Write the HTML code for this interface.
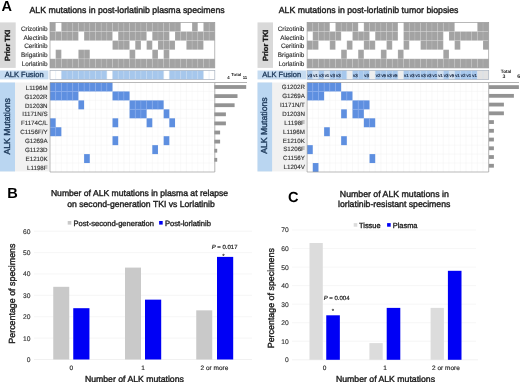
<!DOCTYPE html>
<html><head><meta charset="utf-8"><title>ALK mutations figure</title>
<style>
html,body{margin:0;padding:0;background:#fff;}
body{width:520px;height:382px;overflow:hidden;}
svg{display:block;font-family:"Liberation Sans", Arial, sans-serif;text-rendering:geometricPrecision;}
</style></head>
<body>
<svg width="520" height="382" viewBox="0 0 520 382">
<rect x="0" y="0" width="520" height="382" fill="#fff"/>
<text x="29.50" y="13.03" font-size="8.74" text-anchor="start" font-weight="normal" fill="#222"  stroke="#222" stroke-width="0.393">ALK mutations in post-lorlatinib plasma specimens</text>
<rect x="0.00" y="22.40" width="15.70" height="45.50" fill="#d9d9d9"/>
<text x="0" y="2.67" transform="translate(7.65,45.35) rotate(-90)" font-size="7.45" text-anchor="middle" font-weight="bold" fill="#151515"  stroke="#151515" stroke-width="0.300">Prior TKI</text>
<text x="47.60" y="30.59" font-size="6.4" text-anchor="end" font-weight="normal" fill="#333"  stroke="#333" stroke-width="0.141">Crizotinib</text>
<rect x="50.00" y="22.40" width="5.68" height="9.10" fill="#a3a3a3"/>
<rect x="61.37" y="22.40" width="5.68" height="9.10" fill="#a3a3a3"/>
<rect x="67.05" y="22.40" width="5.68" height="9.10" fill="#a3a3a3"/>
<rect x="72.73" y="22.40" width="5.68" height="9.10" fill="#a3a3a3"/>
<rect x="78.41" y="22.40" width="5.68" height="9.10" fill="#a3a3a3"/>
<rect x="84.10" y="22.40" width="5.68" height="9.10" fill="#a3a3a3"/>
<rect x="89.78" y="22.40" width="5.68" height="9.10" fill="#a3a3a3"/>
<rect x="95.46" y="22.40" width="5.68" height="9.10" fill="#a3a3a3"/>
<rect x="101.14" y="22.40" width="5.68" height="9.10" fill="#a3a3a3"/>
<rect x="106.83" y="22.40" width="5.68" height="9.10" fill="#a3a3a3"/>
<rect x="112.51" y="22.40" width="5.68" height="9.10" fill="#a3a3a3"/>
<rect x="118.19" y="22.40" width="5.68" height="9.10" fill="#a3a3a3"/>
<rect x="123.88" y="22.40" width="5.68" height="9.10" fill="#a3a3a3"/>
<rect x="129.56" y="22.40" width="5.68" height="9.10" fill="#a3a3a3"/>
<rect x="135.24" y="22.40" width="5.68" height="9.10" fill="#a3a3a3"/>
<rect x="140.92" y="22.40" width="5.68" height="9.10" fill="#a3a3a3"/>
<rect x="146.61" y="22.40" width="5.68" height="9.10" fill="#a3a3a3"/>
<rect x="152.29" y="22.40" width="5.68" height="9.10" fill="#a3a3a3"/>
<rect x="157.97" y="22.40" width="5.68" height="9.10" fill="#a3a3a3"/>
<rect x="163.66" y="22.40" width="5.68" height="9.10" fill="#a3a3a3"/>
<rect x="169.34" y="22.40" width="5.68" height="9.10" fill="#a3a3a3"/>
<rect x="175.02" y="22.40" width="5.68" height="9.10" fill="#a3a3a3"/>
<rect x="192.07" y="22.40" width="5.68" height="9.10" fill="#a3a3a3"/>
<rect x="203.43" y="22.40" width="5.68" height="9.10" fill="#a3a3a3"/>
<rect x="209.12" y="22.40" width="5.68" height="9.10" fill="#a3a3a3"/>
<text x="47.60" y="39.50" font-size="6.4" text-anchor="end" font-weight="normal" fill="#333"  stroke="#333" stroke-width="0.141">Alectinib</text>
<rect x="50.00" y="31.50" width="5.68" height="9.10" fill="#a3a3a3"/>
<rect x="55.68" y="31.50" width="5.68" height="9.10" fill="#a3a3a3"/>
<rect x="61.37" y="31.50" width="5.68" height="9.10" fill="#a3a3a3"/>
<rect x="67.05" y="31.50" width="5.68" height="9.10" fill="#a3a3a3"/>
<rect x="72.73" y="31.50" width="5.68" height="9.10" fill="#a3a3a3"/>
<rect x="84.10" y="31.50" width="5.68" height="9.10" fill="#a3a3a3"/>
<rect x="89.78" y="31.50" width="5.68" height="9.10" fill="#a3a3a3"/>
<rect x="95.46" y="31.50" width="5.68" height="9.10" fill="#a3a3a3"/>
<rect x="101.14" y="31.50" width="5.68" height="9.10" fill="#a3a3a3"/>
<rect x="106.83" y="31.50" width="5.68" height="9.10" fill="#a3a3a3"/>
<rect x="118.19" y="31.50" width="5.68" height="9.10" fill="#a3a3a3"/>
<rect x="123.88" y="31.50" width="5.68" height="9.10" fill="#a3a3a3"/>
<rect x="129.56" y="31.50" width="5.68" height="9.10" fill="#a3a3a3"/>
<rect x="135.24" y="31.50" width="5.68" height="9.10" fill="#a3a3a3"/>
<rect x="140.92" y="31.50" width="5.68" height="9.10" fill="#a3a3a3"/>
<rect x="152.29" y="31.50" width="5.68" height="9.10" fill="#a3a3a3"/>
<rect x="157.97" y="31.50" width="5.68" height="9.10" fill="#a3a3a3"/>
<rect x="163.66" y="31.50" width="5.68" height="9.10" fill="#a3a3a3"/>
<rect x="175.02" y="31.50" width="5.68" height="9.10" fill="#a3a3a3"/>
<rect x="180.70" y="31.50" width="5.68" height="9.10" fill="#a3a3a3"/>
<rect x="186.39" y="31.50" width="5.68" height="9.10" fill="#a3a3a3"/>
<rect x="192.07" y="31.50" width="5.68" height="9.10" fill="#a3a3a3"/>
<rect x="197.75" y="31.50" width="5.68" height="9.10" fill="#a3a3a3"/>
<rect x="203.43" y="31.50" width="5.68" height="9.10" fill="#a3a3a3"/>
<rect x="209.12" y="31.50" width="5.68" height="9.10" fill="#a3a3a3"/>
<text x="47.60" y="48.41" font-size="6.4" text-anchor="end" font-weight="normal" fill="#333"  stroke="#333" stroke-width="0.141">Ceritinib</text>
<rect x="112.51" y="40.60" width="5.68" height="9.10" fill="#a3a3a3"/>
<rect x="118.19" y="40.60" width="5.68" height="9.10" fill="#a3a3a3"/>
<rect x="123.88" y="40.60" width="5.68" height="9.10" fill="#a3a3a3"/>
<rect x="135.24" y="40.60" width="5.68" height="9.10" fill="#a3a3a3"/>
<rect x="146.61" y="40.60" width="5.68" height="9.10" fill="#a3a3a3"/>
<rect x="157.97" y="40.60" width="5.68" height="9.10" fill="#a3a3a3"/>
<rect x="163.66" y="40.60" width="5.68" height="9.10" fill="#a3a3a3"/>
<rect x="169.34" y="40.60" width="5.68" height="9.10" fill="#a3a3a3"/>
<rect x="186.39" y="40.60" width="5.68" height="9.10" fill="#a3a3a3"/>
<rect x="192.07" y="40.60" width="5.68" height="9.10" fill="#a3a3a3"/>
<rect x="197.75" y="40.60" width="5.68" height="9.10" fill="#a3a3a3"/>
<text x="47.60" y="57.32" font-size="6.4" text-anchor="end" font-weight="normal" fill="#333"  stroke="#333" stroke-width="0.141">Brigatinib</text>
<rect x="55.68" y="49.70" width="5.68" height="9.10" fill="#a3a3a3"/>
<rect x="78.41" y="49.70" width="5.68" height="9.10" fill="#a3a3a3"/>
<rect x="84.10" y="49.70" width="5.68" height="9.10" fill="#a3a3a3"/>
<rect x="129.56" y="49.70" width="5.68" height="9.10" fill="#a3a3a3"/>
<rect x="152.29" y="49.70" width="5.68" height="9.10" fill="#a3a3a3"/>
<rect x="163.66" y="49.70" width="5.68" height="9.10" fill="#a3a3a3"/>
<text x="47.60" y="66.23" font-size="6.4" text-anchor="end" font-weight="normal" fill="#333"  stroke="#333" stroke-width="0.141">Lorlatinib</text>
<rect x="50.00" y="58.80" width="5.68" height="9.10" fill="#a3a3a3"/>
<rect x="55.68" y="58.80" width="5.68" height="9.10" fill="#a3a3a3"/>
<rect x="61.37" y="58.80" width="5.68" height="9.10" fill="#a3a3a3"/>
<rect x="67.05" y="58.80" width="5.68" height="9.10" fill="#a3a3a3"/>
<rect x="72.73" y="58.80" width="5.68" height="9.10" fill="#a3a3a3"/>
<rect x="78.41" y="58.80" width="5.68" height="9.10" fill="#a3a3a3"/>
<rect x="84.10" y="58.80" width="5.68" height="9.10" fill="#a3a3a3"/>
<rect x="89.78" y="58.80" width="5.68" height="9.10" fill="#a3a3a3"/>
<rect x="95.46" y="58.80" width="5.68" height="9.10" fill="#a3a3a3"/>
<rect x="101.14" y="58.80" width="5.68" height="9.10" fill="#a3a3a3"/>
<rect x="106.83" y="58.80" width="5.68" height="9.10" fill="#a3a3a3"/>
<rect x="112.51" y="58.80" width="5.68" height="9.10" fill="#a3a3a3"/>
<rect x="118.19" y="58.80" width="5.68" height="9.10" fill="#a3a3a3"/>
<rect x="123.88" y="58.80" width="5.68" height="9.10" fill="#a3a3a3"/>
<rect x="129.56" y="58.80" width="5.68" height="9.10" fill="#a3a3a3"/>
<rect x="135.24" y="58.80" width="5.68" height="9.10" fill="#a3a3a3"/>
<rect x="140.92" y="58.80" width="5.68" height="9.10" fill="#a3a3a3"/>
<rect x="146.61" y="58.80" width="5.68" height="9.10" fill="#a3a3a3"/>
<rect x="152.29" y="58.80" width="5.68" height="9.10" fill="#a3a3a3"/>
<rect x="157.97" y="58.80" width="5.68" height="9.10" fill="#a3a3a3"/>
<rect x="163.66" y="58.80" width="5.68" height="9.10" fill="#a3a3a3"/>
<rect x="169.34" y="58.80" width="5.68" height="9.10" fill="#a3a3a3"/>
<rect x="175.02" y="58.80" width="5.68" height="9.10" fill="#a3a3a3"/>
<rect x="180.70" y="58.80" width="5.68" height="9.10" fill="#a3a3a3"/>
<rect x="186.39" y="58.80" width="5.68" height="9.10" fill="#a3a3a3"/>
<rect x="192.07" y="58.80" width="5.68" height="9.10" fill="#a3a3a3"/>
<rect x="197.75" y="58.80" width="5.68" height="9.10" fill="#a3a3a3"/>
<rect x="203.43" y="58.80" width="5.68" height="9.10" fill="#a3a3a3"/>
<rect x="209.12" y="58.80" width="5.68" height="9.10" fill="#a3a3a3"/>
<line x1="55.68" y1="22.4" x2="55.68" y2="67.9" stroke="#fff" stroke-opacity="0.25" stroke-width="0.5"/>
<line x1="61.37" y1="22.4" x2="61.37" y2="67.9" stroke="#fff" stroke-opacity="0.25" stroke-width="0.5"/>
<line x1="67.05" y1="22.4" x2="67.05" y2="67.9" stroke="#fff" stroke-opacity="0.25" stroke-width="0.5"/>
<line x1="72.73" y1="22.4" x2="72.73" y2="67.9" stroke="#fff" stroke-opacity="0.25" stroke-width="0.5"/>
<line x1="78.41" y1="22.4" x2="78.41" y2="67.9" stroke="#fff" stroke-opacity="0.25" stroke-width="0.5"/>
<line x1="84.10" y1="22.4" x2="84.10" y2="67.9" stroke="#fff" stroke-opacity="0.25" stroke-width="0.5"/>
<line x1="89.78" y1="22.4" x2="89.78" y2="67.9" stroke="#fff" stroke-opacity="0.25" stroke-width="0.5"/>
<line x1="95.46" y1="22.4" x2="95.46" y2="67.9" stroke="#fff" stroke-opacity="0.25" stroke-width="0.5"/>
<line x1="101.14" y1="22.4" x2="101.14" y2="67.9" stroke="#fff" stroke-opacity="0.25" stroke-width="0.5"/>
<line x1="106.83" y1="22.4" x2="106.83" y2="67.9" stroke="#fff" stroke-opacity="0.25" stroke-width="0.5"/>
<line x1="112.51" y1="22.4" x2="112.51" y2="67.9" stroke="#fff" stroke-opacity="0.25" stroke-width="0.5"/>
<line x1="118.19" y1="22.4" x2="118.19" y2="67.9" stroke="#fff" stroke-opacity="0.25" stroke-width="0.5"/>
<line x1="123.88" y1="22.4" x2="123.88" y2="67.9" stroke="#fff" stroke-opacity="0.25" stroke-width="0.5"/>
<line x1="129.56" y1="22.4" x2="129.56" y2="67.9" stroke="#fff" stroke-opacity="0.25" stroke-width="0.5"/>
<line x1="135.24" y1="22.4" x2="135.24" y2="67.9" stroke="#fff" stroke-opacity="0.25" stroke-width="0.5"/>
<line x1="140.92" y1="22.4" x2="140.92" y2="67.9" stroke="#fff" stroke-opacity="0.25" stroke-width="0.5"/>
<line x1="146.61" y1="22.4" x2="146.61" y2="67.9" stroke="#fff" stroke-opacity="0.25" stroke-width="0.5"/>
<line x1="152.29" y1="22.4" x2="152.29" y2="67.9" stroke="#fff" stroke-opacity="0.25" stroke-width="0.5"/>
<line x1="157.97" y1="22.4" x2="157.97" y2="67.9" stroke="#fff" stroke-opacity="0.25" stroke-width="0.5"/>
<line x1="163.66" y1="22.4" x2="163.66" y2="67.9" stroke="#fff" stroke-opacity="0.25" stroke-width="0.5"/>
<line x1="169.34" y1="22.4" x2="169.34" y2="67.9" stroke="#fff" stroke-opacity="0.25" stroke-width="0.5"/>
<line x1="175.02" y1="22.4" x2="175.02" y2="67.9" stroke="#fff" stroke-opacity="0.25" stroke-width="0.5"/>
<line x1="180.70" y1="22.4" x2="180.70" y2="67.9" stroke="#fff" stroke-opacity="0.25" stroke-width="0.5"/>
<line x1="186.39" y1="22.4" x2="186.39" y2="67.9" stroke="#fff" stroke-opacity="0.25" stroke-width="0.5"/>
<line x1="192.07" y1="22.4" x2="192.07" y2="67.9" stroke="#fff" stroke-opacity="0.25" stroke-width="0.5"/>
<line x1="197.75" y1="22.4" x2="197.75" y2="67.9" stroke="#fff" stroke-opacity="0.25" stroke-width="0.5"/>
<line x1="203.43" y1="22.4" x2="203.43" y2="67.9" stroke="#fff" stroke-opacity="0.25" stroke-width="0.5"/>
<line x1="209.12" y1="22.4" x2="209.12" y2="67.9" stroke="#fff" stroke-opacity="0.25" stroke-width="0.5"/>
<line x1="50.0" y1="31.50" x2="214.80" y2="31.50" stroke="#fff" stroke-opacity="0.25" stroke-width="0.5"/>
<line x1="50.0" y1="40.60" x2="214.80" y2="40.60" stroke="#fff" stroke-opacity="0.25" stroke-width="0.5"/>
<line x1="50.0" y1="49.70" x2="214.80" y2="49.70" stroke="#fff" stroke-opacity="0.25" stroke-width="0.5"/>
<line x1="50.0" y1="58.80" x2="214.80" y2="58.80" stroke="#fff" stroke-opacity="0.25" stroke-width="0.5"/>
<rect x="50.00" y="22.40" width="164.80" height="45.50" fill="none" stroke="#9b9b9b" stroke-width="0.7"/>
<rect x="0.00" y="70.50" width="48.40" height="8.90" fill="#c6dcf1"/>
<text x="4.80" y="77.04" font-size="7.5" text-anchor="start" font-weight="normal" fill="#1f3b5c"  stroke="#1f3b5c" stroke-width="0.337">ALK Fusion</text>
<rect x="61.37" y="70.50" width="5.68" height="8.90" fill="#a6c7ec"/>
<rect x="67.05" y="70.50" width="5.68" height="8.90" fill="#a6c7ec"/>
<rect x="72.73" y="70.50" width="5.68" height="8.90" fill="#a6c7ec"/>
<rect x="78.41" y="70.50" width="5.68" height="8.90" fill="#a6c7ec"/>
<rect x="84.10" y="70.50" width="5.68" height="8.90" fill="#a6c7ec"/>
<rect x="89.78" y="70.50" width="5.68" height="8.90" fill="#a6c7ec"/>
<rect x="95.46" y="70.50" width="5.68" height="8.90" fill="#a6c7ec"/>
<rect x="101.14" y="70.50" width="5.68" height="8.90" fill="#a6c7ec"/>
<rect x="112.51" y="70.50" width="5.68" height="8.90" fill="#a6c7ec"/>
<rect x="118.19" y="70.50" width="5.68" height="8.90" fill="#a6c7ec"/>
<rect x="123.88" y="70.50" width="5.68" height="8.90" fill="#a6c7ec"/>
<rect x="129.56" y="70.50" width="5.68" height="8.90" fill="#a6c7ec"/>
<rect x="135.24" y="70.50" width="5.68" height="8.90" fill="#a6c7ec"/>
<rect x="140.92" y="70.50" width="5.68" height="8.90" fill="#a6c7ec"/>
<rect x="146.61" y="70.50" width="5.68" height="8.90" fill="#a6c7ec"/>
<rect x="152.29" y="70.50" width="5.68" height="8.90" fill="#a6c7ec"/>
<rect x="157.97" y="70.50" width="5.68" height="8.90" fill="#a6c7ec"/>
<rect x="169.34" y="70.50" width="5.68" height="8.90" fill="#a6c7ec"/>
<rect x="175.02" y="70.50" width="5.68" height="8.90" fill="#a6c7ec"/>
<rect x="180.70" y="70.50" width="5.68" height="8.90" fill="#a6c7ec"/>
<rect x="186.39" y="70.50" width="5.68" height="8.90" fill="#a6c7ec"/>
<rect x="192.07" y="70.50" width="5.68" height="8.90" fill="#a6c7ec"/>
<rect x="197.75" y="70.50" width="5.68" height="8.90" fill="#a6c7ec"/>
<line x1="55.68" y1="70.50" x2="55.68" y2="79.40" stroke="#c9dcef" stroke-width="0.4"/>
<line x1="61.37" y1="70.50" x2="61.37" y2="79.40" stroke="#c9dcef" stroke-width="0.4"/>
<line x1="67.05" y1="70.50" x2="67.05" y2="79.40" stroke="#c9dcef" stroke-width="0.4"/>
<line x1="72.73" y1="70.50" x2="72.73" y2="79.40" stroke="#c9dcef" stroke-width="0.4"/>
<line x1="78.41" y1="70.50" x2="78.41" y2="79.40" stroke="#c9dcef" stroke-width="0.4"/>
<line x1="84.10" y1="70.50" x2="84.10" y2="79.40" stroke="#c9dcef" stroke-width="0.4"/>
<line x1="89.78" y1="70.50" x2="89.78" y2="79.40" stroke="#c9dcef" stroke-width="0.4"/>
<line x1="95.46" y1="70.50" x2="95.46" y2="79.40" stroke="#c9dcef" stroke-width="0.4"/>
<line x1="101.14" y1="70.50" x2="101.14" y2="79.40" stroke="#c9dcef" stroke-width="0.4"/>
<line x1="106.83" y1="70.50" x2="106.83" y2="79.40" stroke="#c9dcef" stroke-width="0.4"/>
<line x1="112.51" y1="70.50" x2="112.51" y2="79.40" stroke="#c9dcef" stroke-width="0.4"/>
<line x1="118.19" y1="70.50" x2="118.19" y2="79.40" stroke="#c9dcef" stroke-width="0.4"/>
<line x1="123.88" y1="70.50" x2="123.88" y2="79.40" stroke="#c9dcef" stroke-width="0.4"/>
<line x1="129.56" y1="70.50" x2="129.56" y2="79.40" stroke="#c9dcef" stroke-width="0.4"/>
<line x1="135.24" y1="70.50" x2="135.24" y2="79.40" stroke="#c9dcef" stroke-width="0.4"/>
<line x1="140.92" y1="70.50" x2="140.92" y2="79.40" stroke="#c9dcef" stroke-width="0.4"/>
<line x1="146.61" y1="70.50" x2="146.61" y2="79.40" stroke="#c9dcef" stroke-width="0.4"/>
<line x1="152.29" y1="70.50" x2="152.29" y2="79.40" stroke="#c9dcef" stroke-width="0.4"/>
<line x1="157.97" y1="70.50" x2="157.97" y2="79.40" stroke="#c9dcef" stroke-width="0.4"/>
<line x1="163.66" y1="70.50" x2="163.66" y2="79.40" stroke="#c9dcef" stroke-width="0.4"/>
<line x1="169.34" y1="70.50" x2="169.34" y2="79.40" stroke="#c9dcef" stroke-width="0.4"/>
<line x1="175.02" y1="70.50" x2="175.02" y2="79.40" stroke="#c9dcef" stroke-width="0.4"/>
<line x1="180.70" y1="70.50" x2="180.70" y2="79.40" stroke="#c9dcef" stroke-width="0.4"/>
<line x1="186.39" y1="70.50" x2="186.39" y2="79.40" stroke="#c9dcef" stroke-width="0.4"/>
<line x1="192.07" y1="70.50" x2="192.07" y2="79.40" stroke="#c9dcef" stroke-width="0.4"/>
<line x1="197.75" y1="70.50" x2="197.75" y2="79.40" stroke="#c9dcef" stroke-width="0.4"/>
<line x1="203.43" y1="70.50" x2="203.43" y2="79.40" stroke="#c9dcef" stroke-width="0.4"/>
<line x1="209.12" y1="70.50" x2="209.12" y2="79.40" stroke="#c9dcef" stroke-width="0.4"/>
<rect x="50.00" y="70.50" width="164.80" height="8.90" fill="none" stroke="#a9b2bf" stroke-width="0.7"/>
<rect x="0.00" y="82.50" width="49.40" height="88.90" fill="#f1f1f1"/>
<rect x="0.00" y="82.50" width="15.00" height="88.90" fill="#bad6f1"/>
<text x="0" y="3.11" transform="translate(7.10,126.35) rotate(-90)" font-size="8.7" text-anchor="middle" font-weight="normal" fill="#1f3b5c"  stroke="#1f3b5c" stroke-width="0.391">ALK Mutations</text>
<text x="47.60" y="89.64" font-size="6.2" text-anchor="end" font-weight="normal" fill="#333"  stroke="#333" stroke-width="0.136">L1196M</text>
<text x="47.60" y="98.59" font-size="6.2" text-anchor="end" font-weight="normal" fill="#333"  stroke="#333" stroke-width="0.136">G1202R</text>
<text x="47.60" y="107.54" font-size="6.2" text-anchor="end" font-weight="normal" fill="#333"  stroke="#333" stroke-width="0.136">D1203N</text>
<text x="47.60" y="116.49" font-size="6.2" text-anchor="end" font-weight="normal" fill="#333"  stroke="#333" stroke-width="0.136">I1171N/S</text>
<text x="47.60" y="125.44" font-size="6.2" text-anchor="end" font-weight="normal" fill="#333"  stroke="#333" stroke-width="0.136">F1174C/L</text>
<text x="47.60" y="134.39" font-size="6.2" text-anchor="end" font-weight="normal" fill="#333"  stroke="#333" stroke-width="0.136">C1156F/Y</text>
<text x="47.60" y="143.34" font-size="6.2" text-anchor="end" font-weight="normal" fill="#333"  stroke="#333" stroke-width="0.136">G1269A</text>
<text x="47.60" y="152.29" font-size="6.2" text-anchor="end" font-weight="normal" fill="#333"  stroke="#333" stroke-width="0.136">G1123D</text>
<text x="47.60" y="161.24" font-size="6.2" text-anchor="end" font-weight="normal" fill="#333"  stroke="#333" stroke-width="0.136">E1210K</text>
<text x="47.60" y="170.19" font-size="6.2" text-anchor="end" font-weight="normal" fill="#333"  stroke="#333" stroke-width="0.136">L1198F</text>
<line x1="55.68" y1="82.50" x2="55.68" y2="172.00" stroke="#f2f2f2" stroke-width="0.45"/>
<line x1="61.37" y1="82.50" x2="61.37" y2="172.00" stroke="#f2f2f2" stroke-width="0.45"/>
<line x1="67.05" y1="82.50" x2="67.05" y2="172.00" stroke="#f2f2f2" stroke-width="0.45"/>
<line x1="72.73" y1="82.50" x2="72.73" y2="172.00" stroke="#f2f2f2" stroke-width="0.45"/>
<line x1="78.41" y1="82.50" x2="78.41" y2="172.00" stroke="#f2f2f2" stroke-width="0.45"/>
<line x1="84.10" y1="82.50" x2="84.10" y2="172.00" stroke="#f2f2f2" stroke-width="0.45"/>
<line x1="89.78" y1="82.50" x2="89.78" y2="172.00" stroke="#f2f2f2" stroke-width="0.45"/>
<line x1="95.46" y1="82.50" x2="95.46" y2="172.00" stroke="#f2f2f2" stroke-width="0.45"/>
<line x1="101.14" y1="82.50" x2="101.14" y2="172.00" stroke="#f2f2f2" stroke-width="0.45"/>
<line x1="106.83" y1="82.50" x2="106.83" y2="172.00" stroke="#f2f2f2" stroke-width="0.45"/>
<line x1="112.51" y1="82.50" x2="112.51" y2="172.00" stroke="#f2f2f2" stroke-width="0.45"/>
<line x1="118.19" y1="82.50" x2="118.19" y2="172.00" stroke="#f2f2f2" stroke-width="0.45"/>
<line x1="123.88" y1="82.50" x2="123.88" y2="172.00" stroke="#f2f2f2" stroke-width="0.45"/>
<line x1="129.56" y1="82.50" x2="129.56" y2="172.00" stroke="#f2f2f2" stroke-width="0.45"/>
<line x1="135.24" y1="82.50" x2="135.24" y2="172.00" stroke="#f2f2f2" stroke-width="0.45"/>
<line x1="140.92" y1="82.50" x2="140.92" y2="172.00" stroke="#f2f2f2" stroke-width="0.45"/>
<line x1="146.61" y1="82.50" x2="146.61" y2="172.00" stroke="#f2f2f2" stroke-width="0.45"/>
<line x1="152.29" y1="82.50" x2="152.29" y2="172.00" stroke="#f2f2f2" stroke-width="0.45"/>
<line x1="157.97" y1="82.50" x2="157.97" y2="172.00" stroke="#f2f2f2" stroke-width="0.45"/>
<line x1="163.66" y1="82.50" x2="163.66" y2="172.00" stroke="#f2f2f2" stroke-width="0.45"/>
<line x1="169.34" y1="82.50" x2="169.34" y2="172.00" stroke="#f2f2f2" stroke-width="0.45"/>
<line x1="175.02" y1="82.50" x2="175.02" y2="172.00" stroke="#f2f2f2" stroke-width="0.45"/>
<line x1="180.70" y1="82.50" x2="180.70" y2="172.00" stroke="#f2f2f2" stroke-width="0.45"/>
<line x1="186.39" y1="82.50" x2="186.39" y2="172.00" stroke="#f2f2f2" stroke-width="0.45"/>
<line x1="192.07" y1="82.50" x2="192.07" y2="172.00" stroke="#f2f2f2" stroke-width="0.45"/>
<line x1="197.75" y1="82.50" x2="197.75" y2="172.00" stroke="#f2f2f2" stroke-width="0.45"/>
<line x1="203.43" y1="82.50" x2="203.43" y2="172.00" stroke="#f2f2f2" stroke-width="0.45"/>
<line x1="209.12" y1="82.50" x2="209.12" y2="172.00" stroke="#f2f2f2" stroke-width="0.45"/>
<line x1="50.00" y1="91.45" x2="214.80" y2="91.45" stroke="#f2f2f2" stroke-width="0.45"/>
<line x1="50.00" y1="100.40" x2="214.80" y2="100.40" stroke="#f2f2f2" stroke-width="0.45"/>
<line x1="50.00" y1="109.35" x2="214.80" y2="109.35" stroke="#f2f2f2" stroke-width="0.45"/>
<line x1="50.00" y1="118.30" x2="214.80" y2="118.30" stroke="#f2f2f2" stroke-width="0.45"/>
<line x1="50.00" y1="127.25" x2="214.80" y2="127.25" stroke="#f2f2f2" stroke-width="0.45"/>
<line x1="50.00" y1="136.20" x2="214.80" y2="136.20" stroke="#f2f2f2" stroke-width="0.45"/>
<line x1="50.00" y1="145.15" x2="214.80" y2="145.15" stroke="#f2f2f2" stroke-width="0.45"/>
<line x1="50.00" y1="154.10" x2="214.80" y2="154.10" stroke="#f2f2f2" stroke-width="0.45"/>
<line x1="50.00" y1="163.05" x2="214.80" y2="163.05" stroke="#f2f2f2" stroke-width="0.45"/>
<rect x="50.00" y="82.50" width="5.68" height="8.95" fill="#5e8fe0"/>
<rect x="55.68" y="82.50" width="5.68" height="8.95" fill="#5e8fe0"/>
<rect x="61.37" y="82.50" width="5.68" height="8.95" fill="#5e8fe0"/>
<rect x="67.05" y="82.50" width="5.68" height="8.95" fill="#5e8fe0"/>
<rect x="72.73" y="82.50" width="5.68" height="8.95" fill="#5e8fe0"/>
<rect x="78.41" y="82.50" width="5.68" height="8.95" fill="#5e8fe0"/>
<rect x="84.10" y="82.50" width="5.68" height="8.95" fill="#5e8fe0"/>
<rect x="89.78" y="82.50" width="5.68" height="8.95" fill="#5e8fe0"/>
<rect x="95.46" y="82.50" width="5.68" height="8.95" fill="#5e8fe0"/>
<rect x="101.14" y="82.50" width="5.68" height="8.95" fill="#5e8fe0"/>
<rect x="106.83" y="82.50" width="5.68" height="8.95" fill="#5e8fe0"/>
<rect x="50.00" y="91.45" width="5.68" height="8.95" fill="#5e8fe0"/>
<rect x="55.68" y="91.45" width="5.68" height="8.95" fill="#5e8fe0"/>
<rect x="61.37" y="91.45" width="5.68" height="8.95" fill="#5e8fe0"/>
<rect x="67.05" y="91.45" width="5.68" height="8.95" fill="#5e8fe0"/>
<rect x="72.73" y="91.45" width="5.68" height="8.95" fill="#5e8fe0"/>
<rect x="112.51" y="91.45" width="5.68" height="8.95" fill="#5e8fe0"/>
<rect x="118.19" y="91.45" width="5.68" height="8.95" fill="#5e8fe0"/>
<rect x="123.88" y="91.45" width="5.68" height="8.95" fill="#5e8fe0"/>
<rect x="78.41" y="100.40" width="5.68" height="8.95" fill="#5e8fe0"/>
<rect x="129.56" y="100.40" width="5.68" height="8.95" fill="#5e8fe0"/>
<rect x="135.24" y="100.40" width="5.68" height="8.95" fill="#5e8fe0"/>
<rect x="140.92" y="100.40" width="5.68" height="8.95" fill="#5e8fe0"/>
<rect x="146.61" y="100.40" width="5.68" height="8.95" fill="#5e8fe0"/>
<rect x="152.29" y="100.40" width="5.68" height="8.95" fill="#5e8fe0"/>
<rect x="157.97" y="100.40" width="5.68" height="8.95" fill="#5e8fe0"/>
<rect x="129.56" y="109.35" width="5.68" height="8.95" fill="#5e8fe0"/>
<rect x="135.24" y="109.35" width="5.68" height="8.95" fill="#5e8fe0"/>
<rect x="140.92" y="109.35" width="5.68" height="8.95" fill="#5e8fe0"/>
<rect x="163.66" y="109.35" width="5.68" height="8.95" fill="#5e8fe0"/>
<rect x="50.00" y="118.30" width="5.68" height="8.95" fill="#5e8fe0"/>
<rect x="112.51" y="118.30" width="5.68" height="8.95" fill="#5e8fe0"/>
<rect x="146.61" y="118.30" width="5.68" height="8.95" fill="#5e8fe0"/>
<rect x="169.34" y="118.30" width="5.68" height="8.95" fill="#5e8fe0"/>
<rect x="50.00" y="127.25" width="5.68" height="8.95" fill="#5e8fe0"/>
<rect x="55.68" y="127.25" width="5.68" height="8.95" fill="#5e8fe0"/>
<rect x="112.51" y="136.20" width="5.68" height="8.95" fill="#5e8fe0"/>
<rect x="163.66" y="136.20" width="5.68" height="8.95" fill="#5e8fe0"/>
<rect x="152.29" y="145.15" width="5.68" height="8.95" fill="#5e8fe0"/>
<rect x="84.10" y="154.10" width="5.68" height="8.95" fill="#5e8fe0"/>
<line x1="55.68" y1="82.50" x2="55.68" y2="91.45" stroke="#86aaee" stroke-width="0.5"/>
<line x1="50.00" y1="91.45" x2="55.68" y2="91.45" stroke="#86aaee" stroke-width="0.5"/>
<line x1="61.37" y1="82.50" x2="61.37" y2="91.45" stroke="#86aaee" stroke-width="0.5"/>
<line x1="55.68" y1="91.45" x2="61.37" y2="91.45" stroke="#86aaee" stroke-width="0.5"/>
<line x1="67.05" y1="82.50" x2="67.05" y2="91.45" stroke="#86aaee" stroke-width="0.5"/>
<line x1="61.37" y1="91.45" x2="67.05" y2="91.45" stroke="#86aaee" stroke-width="0.5"/>
<line x1="72.73" y1="82.50" x2="72.73" y2="91.45" stroke="#86aaee" stroke-width="0.5"/>
<line x1="67.05" y1="91.45" x2="72.73" y2="91.45" stroke="#86aaee" stroke-width="0.5"/>
<line x1="78.41" y1="82.50" x2="78.41" y2="91.45" stroke="#86aaee" stroke-width="0.5"/>
<line x1="72.73" y1="91.45" x2="78.41" y2="91.45" stroke="#86aaee" stroke-width="0.5"/>
<line x1="84.10" y1="82.50" x2="84.10" y2="91.45" stroke="#86aaee" stroke-width="0.5"/>
<line x1="89.78" y1="82.50" x2="89.78" y2="91.45" stroke="#86aaee" stroke-width="0.5"/>
<line x1="95.46" y1="82.50" x2="95.46" y2="91.45" stroke="#86aaee" stroke-width="0.5"/>
<line x1="101.14" y1="82.50" x2="101.14" y2="91.45" stroke="#86aaee" stroke-width="0.5"/>
<line x1="106.83" y1="82.50" x2="106.83" y2="91.45" stroke="#86aaee" stroke-width="0.5"/>
<line x1="55.68" y1="91.45" x2="55.68" y2="100.40" stroke="#86aaee" stroke-width="0.5"/>
<line x1="61.37" y1="91.45" x2="61.37" y2="100.40" stroke="#86aaee" stroke-width="0.5"/>
<line x1="67.05" y1="91.45" x2="67.05" y2="100.40" stroke="#86aaee" stroke-width="0.5"/>
<line x1="72.73" y1="91.45" x2="72.73" y2="100.40" stroke="#86aaee" stroke-width="0.5"/>
<line x1="118.19" y1="91.45" x2="118.19" y2="100.40" stroke="#86aaee" stroke-width="0.5"/>
<line x1="123.88" y1="91.45" x2="123.88" y2="100.40" stroke="#86aaee" stroke-width="0.5"/>
<line x1="135.24" y1="100.40" x2="135.24" y2="109.35" stroke="#86aaee" stroke-width="0.5"/>
<line x1="129.56" y1="109.35" x2="135.24" y2="109.35" stroke="#86aaee" stroke-width="0.5"/>
<line x1="140.92" y1="100.40" x2="140.92" y2="109.35" stroke="#86aaee" stroke-width="0.5"/>
<line x1="135.24" y1="109.35" x2="140.92" y2="109.35" stroke="#86aaee" stroke-width="0.5"/>
<line x1="146.61" y1="100.40" x2="146.61" y2="109.35" stroke="#86aaee" stroke-width="0.5"/>
<line x1="140.92" y1="109.35" x2="146.61" y2="109.35" stroke="#86aaee" stroke-width="0.5"/>
<line x1="152.29" y1="100.40" x2="152.29" y2="109.35" stroke="#86aaee" stroke-width="0.5"/>
<line x1="157.97" y1="100.40" x2="157.97" y2="109.35" stroke="#86aaee" stroke-width="0.5"/>
<line x1="135.24" y1="109.35" x2="135.24" y2="118.30" stroke="#86aaee" stroke-width="0.5"/>
<line x1="140.92" y1="109.35" x2="140.92" y2="118.30" stroke="#86aaee" stroke-width="0.5"/>
<line x1="50.00" y1="127.25" x2="55.68" y2="127.25" stroke="#86aaee" stroke-width="0.5"/>
<line x1="55.68" y1="127.25" x2="55.68" y2="136.20" stroke="#86aaee" stroke-width="0.5"/>
<line x1="50.00" y1="82.50" x2="50.00" y2="172.00" stroke="#9b9b9b" stroke-width="0.7"/>
<line x1="50.00" y1="172.00" x2="214.80" y2="172.00" stroke="#9b9b9b" stroke-width="0.7"/>
<line x1="50.00" y1="82.50" x2="214.80" y2="82.50" stroke="#9b9b9b" stroke-width="0.7"/>
<rect x="214.30" y="85.10" width="31.90" height="3.80" fill="#939393"/>
<rect x="214.30" y="94.20" width="23.20" height="3.80" fill="#939393"/>
<rect x="214.30" y="103.30" width="20.30" height="3.80" fill="#939393"/>
<rect x="214.30" y="112.40" width="11.60" height="3.80" fill="#939393"/>
<rect x="214.30" y="121.50" width="11.60" height="3.80" fill="#939393"/>
<rect x="214.30" y="130.60" width="5.80" height="3.80" fill="#939393"/>
<rect x="214.30" y="139.70" width="5.80" height="3.80" fill="#939393"/>
<rect x="214.30" y="148.80" width="2.90" height="3.80" fill="#939393"/>
<rect x="214.30" y="157.90" width="2.90" height="3.80" fill="#939393"/>
<line x1="214.80" y1="82.50" x2="214.80" y2="172.00" stroke="#a0a0a0" stroke-width="0.8"/>
<line x1="214.80" y1="82.50" x2="247.00" y2="82.50" stroke="#a0a0a0" stroke-width="0.8"/>
<text x="236.30" y="76.14" font-size="4.3" text-anchor="middle" font-weight="bold" fill="#222" >Total</text>
<text x="228.40" y="78.94" font-size="4.3" text-anchor="middle" font-weight="bold" fill="#222" >4</text>
<text x="245.00" y="78.84" font-size="4.3" text-anchor="middle" font-weight="bold" fill="#222" >11</text>
<text x="278.80" y="13.03" font-size="8.74" text-anchor="start" font-weight="normal" fill="#222"  stroke="#222" stroke-width="0.393">ALK mutations in post-lorlatinib tumor biopsies</text>
<rect x="257.50" y="22.40" width="15.50" height="45.50" fill="#d9d9d9"/>
<text x="0" y="2.67" transform="translate(265.05,45.35) rotate(-90)" font-size="7.45" text-anchor="middle" font-weight="bold" fill="#151515"  stroke="#151515" stroke-width="0.300">Prior TKI</text>
<text x="304.40" y="30.59" font-size="6.4" text-anchor="end" font-weight="normal" fill="#333"  stroke="#333" stroke-width="0.141">Crizotinib</text>
<rect x="307.10" y="22.40" width="5.67" height="9.10" fill="#a3a3a3"/>
<rect x="312.78" y="22.40" width="5.67" height="9.10" fill="#a3a3a3"/>
<rect x="318.45" y="22.40" width="5.67" height="9.10" fill="#a3a3a3"/>
<rect x="324.12" y="22.40" width="5.67" height="9.10" fill="#a3a3a3"/>
<rect x="335.48" y="22.40" width="5.67" height="9.10" fill="#a3a3a3"/>
<rect x="341.15" y="22.40" width="5.67" height="9.10" fill="#a3a3a3"/>
<rect x="346.83" y="22.40" width="5.67" height="9.10" fill="#a3a3a3"/>
<rect x="352.50" y="22.40" width="5.67" height="9.10" fill="#a3a3a3"/>
<rect x="363.85" y="22.40" width="5.67" height="9.10" fill="#a3a3a3"/>
<rect x="369.53" y="22.40" width="5.67" height="9.10" fill="#a3a3a3"/>
<rect x="375.20" y="22.40" width="5.67" height="9.10" fill="#a3a3a3"/>
<rect x="380.88" y="22.40" width="5.67" height="9.10" fill="#a3a3a3"/>
<rect x="386.55" y="22.40" width="5.67" height="9.10" fill="#a3a3a3"/>
<rect x="392.23" y="22.40" width="5.67" height="9.10" fill="#a3a3a3"/>
<rect x="403.58" y="22.40" width="5.67" height="9.10" fill="#a3a3a3"/>
<rect x="409.25" y="22.40" width="5.67" height="9.10" fill="#a3a3a3"/>
<rect x="414.93" y="22.40" width="5.67" height="9.10" fill="#a3a3a3"/>
<rect x="420.60" y="22.40" width="5.67" height="9.10" fill="#a3a3a3"/>
<rect x="426.28" y="22.40" width="5.67" height="9.10" fill="#a3a3a3"/>
<rect x="431.95" y="22.40" width="5.67" height="9.10" fill="#a3a3a3"/>
<rect x="437.62" y="22.40" width="5.67" height="9.10" fill="#a3a3a3"/>
<rect x="443.30" y="22.40" width="5.67" height="9.10" fill="#a3a3a3"/>
<rect x="448.98" y="22.40" width="5.67" height="9.10" fill="#a3a3a3"/>
<rect x="477.35" y="22.40" width="5.67" height="9.10" fill="#a3a3a3"/>
<rect x="483.02" y="22.40" width="5.67" height="9.10" fill="#a3a3a3"/>
<text x="304.40" y="39.50" font-size="6.4" text-anchor="end" font-weight="normal" fill="#333"  stroke="#333" stroke-width="0.141">Alectinib</text>
<rect x="312.78" y="31.50" width="5.67" height="9.10" fill="#a3a3a3"/>
<rect x="318.45" y="31.50" width="5.67" height="9.10" fill="#a3a3a3"/>
<rect x="324.12" y="31.50" width="5.67" height="9.10" fill="#a3a3a3"/>
<rect x="329.80" y="31.50" width="5.67" height="9.10" fill="#a3a3a3"/>
<rect x="335.48" y="31.50" width="5.67" height="9.10" fill="#a3a3a3"/>
<rect x="352.50" y="31.50" width="5.67" height="9.10" fill="#a3a3a3"/>
<rect x="358.18" y="31.50" width="5.67" height="9.10" fill="#a3a3a3"/>
<rect x="363.85" y="31.50" width="5.67" height="9.10" fill="#a3a3a3"/>
<rect x="375.20" y="31.50" width="5.67" height="9.10" fill="#a3a3a3"/>
<rect x="380.88" y="31.50" width="5.67" height="9.10" fill="#a3a3a3"/>
<rect x="386.55" y="31.50" width="5.67" height="9.10" fill="#a3a3a3"/>
<rect x="392.23" y="31.50" width="5.67" height="9.10" fill="#a3a3a3"/>
<rect x="403.58" y="31.50" width="5.67" height="9.10" fill="#a3a3a3"/>
<rect x="409.25" y="31.50" width="5.67" height="9.10" fill="#a3a3a3"/>
<rect x="414.93" y="31.50" width="5.67" height="9.10" fill="#a3a3a3"/>
<rect x="420.60" y="31.50" width="5.67" height="9.10" fill="#a3a3a3"/>
<rect x="426.28" y="31.50" width="5.67" height="9.10" fill="#a3a3a3"/>
<rect x="431.95" y="31.50" width="5.67" height="9.10" fill="#a3a3a3"/>
<rect x="437.62" y="31.50" width="5.67" height="9.10" fill="#a3a3a3"/>
<rect x="448.98" y="31.50" width="5.67" height="9.10" fill="#a3a3a3"/>
<rect x="454.65" y="31.50" width="5.67" height="9.10" fill="#a3a3a3"/>
<rect x="460.33" y="31.50" width="5.67" height="9.10" fill="#a3a3a3"/>
<rect x="466.00" y="31.50" width="5.67" height="9.10" fill="#a3a3a3"/>
<rect x="471.68" y="31.50" width="5.67" height="9.10" fill="#a3a3a3"/>
<rect x="477.35" y="31.50" width="5.67" height="9.10" fill="#a3a3a3"/>
<rect x="483.02" y="31.50" width="5.67" height="9.10" fill="#a3a3a3"/>
<text x="304.40" y="48.41" font-size="6.4" text-anchor="end" font-weight="normal" fill="#333"  stroke="#333" stroke-width="0.141">Ceritinib</text>
<rect x="307.10" y="40.60" width="5.67" height="9.10" fill="#a3a3a3"/>
<rect x="312.78" y="40.60" width="5.67" height="9.10" fill="#a3a3a3"/>
<rect x="329.80" y="40.60" width="5.67" height="9.10" fill="#a3a3a3"/>
<rect x="346.83" y="40.60" width="5.67" height="9.10" fill="#a3a3a3"/>
<rect x="363.85" y="40.60" width="5.67" height="9.10" fill="#a3a3a3"/>
<rect x="369.53" y="40.60" width="5.67" height="9.10" fill="#a3a3a3"/>
<rect x="386.55" y="40.60" width="5.67" height="9.10" fill="#a3a3a3"/>
<rect x="403.58" y="40.60" width="5.67" height="9.10" fill="#a3a3a3"/>
<rect x="420.60" y="40.60" width="5.67" height="9.10" fill="#a3a3a3"/>
<rect x="426.28" y="40.60" width="5.67" height="9.10" fill="#a3a3a3"/>
<rect x="431.95" y="40.60" width="5.67" height="9.10" fill="#a3a3a3"/>
<rect x="437.62" y="40.60" width="5.67" height="9.10" fill="#a3a3a3"/>
<rect x="454.65" y="40.60" width="5.67" height="9.10" fill="#a3a3a3"/>
<rect x="483.02" y="40.60" width="5.67" height="9.10" fill="#a3a3a3"/>
<text x="304.40" y="57.32" font-size="6.4" text-anchor="end" font-weight="normal" fill="#333"  stroke="#333" stroke-width="0.141">Brigatinib</text>
<rect x="341.15" y="49.70" width="5.67" height="9.10" fill="#a3a3a3"/>
<rect x="358.18" y="49.70" width="5.67" height="9.10" fill="#a3a3a3"/>
<rect x="380.88" y="49.70" width="5.67" height="9.10" fill="#a3a3a3"/>
<rect x="397.90" y="49.70" width="5.67" height="9.10" fill="#a3a3a3"/>
<rect x="443.30" y="49.70" width="5.67" height="9.10" fill="#a3a3a3"/>
<text x="304.40" y="66.23" font-size="6.4" text-anchor="end" font-weight="normal" fill="#333"  stroke="#333" stroke-width="0.141">Lorlatinib</text>
<rect x="307.10" y="58.80" width="5.67" height="9.10" fill="#a3a3a3"/>
<rect x="312.78" y="58.80" width="5.67" height="9.10" fill="#a3a3a3"/>
<rect x="318.45" y="58.80" width="5.67" height="9.10" fill="#a3a3a3"/>
<rect x="324.12" y="58.80" width="5.67" height="9.10" fill="#a3a3a3"/>
<rect x="329.80" y="58.80" width="5.67" height="9.10" fill="#a3a3a3"/>
<rect x="335.48" y="58.80" width="5.67" height="9.10" fill="#a3a3a3"/>
<rect x="341.15" y="58.80" width="5.67" height="9.10" fill="#a3a3a3"/>
<rect x="346.83" y="58.80" width="5.67" height="9.10" fill="#a3a3a3"/>
<rect x="352.50" y="58.80" width="5.67" height="9.10" fill="#a3a3a3"/>
<rect x="358.18" y="58.80" width="5.67" height="9.10" fill="#a3a3a3"/>
<rect x="363.85" y="58.80" width="5.67" height="9.10" fill="#a3a3a3"/>
<rect x="369.53" y="58.80" width="5.67" height="9.10" fill="#a3a3a3"/>
<rect x="375.20" y="58.80" width="5.67" height="9.10" fill="#a3a3a3"/>
<rect x="380.88" y="58.80" width="5.67" height="9.10" fill="#a3a3a3"/>
<rect x="386.55" y="58.80" width="5.67" height="9.10" fill="#a3a3a3"/>
<rect x="392.23" y="58.80" width="5.67" height="9.10" fill="#a3a3a3"/>
<rect x="397.90" y="58.80" width="5.67" height="9.10" fill="#a3a3a3"/>
<rect x="403.58" y="58.80" width="5.67" height="9.10" fill="#a3a3a3"/>
<rect x="409.25" y="58.80" width="5.67" height="9.10" fill="#a3a3a3"/>
<rect x="414.93" y="58.80" width="5.67" height="9.10" fill="#a3a3a3"/>
<rect x="420.60" y="58.80" width="5.67" height="9.10" fill="#a3a3a3"/>
<rect x="426.28" y="58.80" width="5.67" height="9.10" fill="#a3a3a3"/>
<rect x="431.95" y="58.80" width="5.67" height="9.10" fill="#a3a3a3"/>
<rect x="437.62" y="58.80" width="5.67" height="9.10" fill="#a3a3a3"/>
<rect x="443.30" y="58.80" width="5.67" height="9.10" fill="#a3a3a3"/>
<rect x="448.98" y="58.80" width="5.67" height="9.10" fill="#a3a3a3"/>
<rect x="454.65" y="58.80" width="5.67" height="9.10" fill="#a3a3a3"/>
<rect x="460.33" y="58.80" width="5.67" height="9.10" fill="#a3a3a3"/>
<rect x="466.00" y="58.80" width="5.67" height="9.10" fill="#a3a3a3"/>
<rect x="471.68" y="58.80" width="5.67" height="9.10" fill="#a3a3a3"/>
<rect x="477.35" y="58.80" width="5.67" height="9.10" fill="#a3a3a3"/>
<rect x="483.02" y="58.80" width="5.67" height="9.10" fill="#a3a3a3"/>
<line x1="312.78" y1="22.4" x2="312.78" y2="67.9" stroke="#fff" stroke-opacity="0.25" stroke-width="0.5"/>
<line x1="318.45" y1="22.4" x2="318.45" y2="67.9" stroke="#fff" stroke-opacity="0.25" stroke-width="0.5"/>
<line x1="324.12" y1="22.4" x2="324.12" y2="67.9" stroke="#fff" stroke-opacity="0.25" stroke-width="0.5"/>
<line x1="329.80" y1="22.4" x2="329.80" y2="67.9" stroke="#fff" stroke-opacity="0.25" stroke-width="0.5"/>
<line x1="335.48" y1="22.4" x2="335.48" y2="67.9" stroke="#fff" stroke-opacity="0.25" stroke-width="0.5"/>
<line x1="341.15" y1="22.4" x2="341.15" y2="67.9" stroke="#fff" stroke-opacity="0.25" stroke-width="0.5"/>
<line x1="346.83" y1="22.4" x2="346.83" y2="67.9" stroke="#fff" stroke-opacity="0.25" stroke-width="0.5"/>
<line x1="352.50" y1="22.4" x2="352.50" y2="67.9" stroke="#fff" stroke-opacity="0.25" stroke-width="0.5"/>
<line x1="358.18" y1="22.4" x2="358.18" y2="67.9" stroke="#fff" stroke-opacity="0.25" stroke-width="0.5"/>
<line x1="363.85" y1="22.4" x2="363.85" y2="67.9" stroke="#fff" stroke-opacity="0.25" stroke-width="0.5"/>
<line x1="369.53" y1="22.4" x2="369.53" y2="67.9" stroke="#fff" stroke-opacity="0.25" stroke-width="0.5"/>
<line x1="375.20" y1="22.4" x2="375.20" y2="67.9" stroke="#fff" stroke-opacity="0.25" stroke-width="0.5"/>
<line x1="380.88" y1="22.4" x2="380.88" y2="67.9" stroke="#fff" stroke-opacity="0.25" stroke-width="0.5"/>
<line x1="386.55" y1="22.4" x2="386.55" y2="67.9" stroke="#fff" stroke-opacity="0.25" stroke-width="0.5"/>
<line x1="392.23" y1="22.4" x2="392.23" y2="67.9" stroke="#fff" stroke-opacity="0.25" stroke-width="0.5"/>
<line x1="397.90" y1="22.4" x2="397.90" y2="67.9" stroke="#fff" stroke-opacity="0.25" stroke-width="0.5"/>
<line x1="403.58" y1="22.4" x2="403.58" y2="67.9" stroke="#fff" stroke-opacity="0.25" stroke-width="0.5"/>
<line x1="409.25" y1="22.4" x2="409.25" y2="67.9" stroke="#fff" stroke-opacity="0.25" stroke-width="0.5"/>
<line x1="414.93" y1="22.4" x2="414.93" y2="67.9" stroke="#fff" stroke-opacity="0.25" stroke-width="0.5"/>
<line x1="420.60" y1="22.4" x2="420.60" y2="67.9" stroke="#fff" stroke-opacity="0.25" stroke-width="0.5"/>
<line x1="426.28" y1="22.4" x2="426.28" y2="67.9" stroke="#fff" stroke-opacity="0.25" stroke-width="0.5"/>
<line x1="431.95" y1="22.4" x2="431.95" y2="67.9" stroke="#fff" stroke-opacity="0.25" stroke-width="0.5"/>
<line x1="437.62" y1="22.4" x2="437.62" y2="67.9" stroke="#fff" stroke-opacity="0.25" stroke-width="0.5"/>
<line x1="443.30" y1="22.4" x2="443.30" y2="67.9" stroke="#fff" stroke-opacity="0.25" stroke-width="0.5"/>
<line x1="448.98" y1="22.4" x2="448.98" y2="67.9" stroke="#fff" stroke-opacity="0.25" stroke-width="0.5"/>
<line x1="454.65" y1="22.4" x2="454.65" y2="67.9" stroke="#fff" stroke-opacity="0.25" stroke-width="0.5"/>
<line x1="460.33" y1="22.4" x2="460.33" y2="67.9" stroke="#fff" stroke-opacity="0.25" stroke-width="0.5"/>
<line x1="466.00" y1="22.4" x2="466.00" y2="67.9" stroke="#fff" stroke-opacity="0.25" stroke-width="0.5"/>
<line x1="471.68" y1="22.4" x2="471.68" y2="67.9" stroke="#fff" stroke-opacity="0.25" stroke-width="0.5"/>
<line x1="477.35" y1="22.4" x2="477.35" y2="67.9" stroke="#fff" stroke-opacity="0.25" stroke-width="0.5"/>
<line x1="483.02" y1="22.4" x2="483.02" y2="67.9" stroke="#fff" stroke-opacity="0.25" stroke-width="0.5"/>
<line x1="307.1" y1="31.50" x2="488.70" y2="31.50" stroke="#fff" stroke-opacity="0.25" stroke-width="0.5"/>
<line x1="307.1" y1="40.60" x2="488.70" y2="40.60" stroke="#fff" stroke-opacity="0.25" stroke-width="0.5"/>
<line x1="307.1" y1="49.70" x2="488.70" y2="49.70" stroke="#fff" stroke-opacity="0.25" stroke-width="0.5"/>
<line x1="307.1" y1="58.80" x2="488.70" y2="58.80" stroke="#fff" stroke-opacity="0.25" stroke-width="0.5"/>
<rect x="307.10" y="22.40" width="181.60" height="45.50" fill="none" stroke="#9b9b9b" stroke-width="0.7"/>
<rect x="257.50" y="70.50" width="48.60" height="8.90" fill="#c6dcf1"/>
<text x="262.30" y="77.04" font-size="7.5" text-anchor="start" font-weight="normal" fill="#1f3b5c"  stroke="#1f3b5c" stroke-width="0.337">ALK Fusion</text>
<rect x="307.10" y="70.50" width="5.67" height="8.90" fill="#a6c7ec"/>
<rect x="312.78" y="70.50" width="5.67" height="8.90" fill="#d3e1f0"/>
<rect x="318.45" y="70.50" width="5.67" height="8.90" fill="#a6c7ec"/>
<rect x="324.12" y="70.50" width="5.67" height="8.90" fill="#d3e1f0"/>
<rect x="329.80" y="70.50" width="5.67" height="8.90" fill="#a6c7ec"/>
<rect x="335.48" y="70.50" width="5.67" height="8.90" fill="#a6c7ec"/>
<rect x="341.15" y="70.50" width="5.67" height="8.90" fill="#a6c7ec"/>
<rect x="346.83" y="70.50" width="5.67" height="8.90" fill="#eeeeee"/>
<rect x="352.50" y="70.50" width="5.67" height="8.90" fill="#a6c7ec"/>
<rect x="358.18" y="70.50" width="5.67" height="8.90" fill="#a6c7ec"/>
<rect x="363.85" y="70.50" width="5.67" height="8.90" fill="#a6c7ec"/>
<rect x="369.53" y="70.50" width="5.67" height="8.90" fill="#eeeeee"/>
<rect x="375.20" y="70.50" width="5.67" height="8.90" fill="#a6c7ec"/>
<rect x="380.88" y="70.50" width="5.67" height="8.90" fill="#a6c7ec"/>
<rect x="386.55" y="70.50" width="5.67" height="8.90" fill="#a6c7ec"/>
<rect x="392.23" y="70.50" width="5.67" height="8.90" fill="#a6c7ec"/>
<rect x="397.90" y="70.50" width="5.67" height="8.90" fill="#eeeeee"/>
<rect x="403.58" y="70.50" width="5.67" height="8.90" fill="#a6c7ec"/>
<rect x="409.25" y="70.50" width="5.67" height="8.90" fill="#a6c7ec"/>
<rect x="414.93" y="70.50" width="5.67" height="8.90" fill="#a6c7ec"/>
<rect x="420.60" y="70.50" width="5.67" height="8.90" fill="#a6c7ec"/>
<rect x="426.28" y="70.50" width="5.67" height="8.90" fill="#a6c7ec"/>
<rect x="431.95" y="70.50" width="5.67" height="8.90" fill="#a6c7ec"/>
<rect x="437.62" y="70.50" width="5.67" height="8.90" fill="#d3e1f0"/>
<rect x="443.30" y="70.50" width="5.67" height="8.90" fill="#a6c7ec"/>
<rect x="448.98" y="70.50" width="5.67" height="8.90" fill="#d3e1f0"/>
<rect x="454.65" y="70.50" width="5.67" height="8.90" fill="#a6c7ec"/>
<rect x="460.33" y="70.50" width="5.67" height="8.90" fill="#a6c7ec"/>
<rect x="466.00" y="70.50" width="5.67" height="8.90" fill="#a6c7ec"/>
<rect x="471.68" y="70.50" width="5.67" height="8.90" fill="#a6c7ec"/>
<rect x="477.35" y="70.50" width="5.67" height="8.90" fill="#e2e2e2"/>
<rect x="483.02" y="70.50" width="5.67" height="8.90" fill="#e2e2e2"/>
<line x1="312.78" y1="70.50" x2="312.78" y2="79.40" stroke="#c9dcef" stroke-width="0.4"/>
<line x1="318.45" y1="70.50" x2="318.45" y2="79.40" stroke="#c9dcef" stroke-width="0.4"/>
<line x1="324.12" y1="70.50" x2="324.12" y2="79.40" stroke="#c9dcef" stroke-width="0.4"/>
<line x1="329.80" y1="70.50" x2="329.80" y2="79.40" stroke="#c9dcef" stroke-width="0.4"/>
<line x1="335.48" y1="70.50" x2="335.48" y2="79.40" stroke="#c9dcef" stroke-width="0.4"/>
<line x1="341.15" y1="70.50" x2="341.15" y2="79.40" stroke="#c9dcef" stroke-width="0.4"/>
<line x1="346.83" y1="70.50" x2="346.83" y2="79.40" stroke="#c9dcef" stroke-width="0.4"/>
<line x1="352.50" y1="70.50" x2="352.50" y2="79.40" stroke="#c9dcef" stroke-width="0.4"/>
<line x1="358.18" y1="70.50" x2="358.18" y2="79.40" stroke="#c9dcef" stroke-width="0.4"/>
<line x1="363.85" y1="70.50" x2="363.85" y2="79.40" stroke="#c9dcef" stroke-width="0.4"/>
<line x1="369.53" y1="70.50" x2="369.53" y2="79.40" stroke="#c9dcef" stroke-width="0.4"/>
<line x1="375.20" y1="70.50" x2="375.20" y2="79.40" stroke="#c9dcef" stroke-width="0.4"/>
<line x1="380.88" y1="70.50" x2="380.88" y2="79.40" stroke="#c9dcef" stroke-width="0.4"/>
<line x1="386.55" y1="70.50" x2="386.55" y2="79.40" stroke="#c9dcef" stroke-width="0.4"/>
<line x1="392.23" y1="70.50" x2="392.23" y2="79.40" stroke="#c9dcef" stroke-width="0.4"/>
<line x1="397.90" y1="70.50" x2="397.90" y2="79.40" stroke="#c9dcef" stroke-width="0.4"/>
<line x1="403.58" y1="70.50" x2="403.58" y2="79.40" stroke="#c9dcef" stroke-width="0.4"/>
<line x1="409.25" y1="70.50" x2="409.25" y2="79.40" stroke="#c9dcef" stroke-width="0.4"/>
<line x1="414.93" y1="70.50" x2="414.93" y2="79.40" stroke="#c9dcef" stroke-width="0.4"/>
<line x1="420.60" y1="70.50" x2="420.60" y2="79.40" stroke="#c9dcef" stroke-width="0.4"/>
<line x1="426.28" y1="70.50" x2="426.28" y2="79.40" stroke="#c9dcef" stroke-width="0.4"/>
<line x1="431.95" y1="70.50" x2="431.95" y2="79.40" stroke="#c9dcef" stroke-width="0.4"/>
<line x1="437.62" y1="70.50" x2="437.62" y2="79.40" stroke="#c9dcef" stroke-width="0.4"/>
<line x1="443.30" y1="70.50" x2="443.30" y2="79.40" stroke="#c9dcef" stroke-width="0.4"/>
<line x1="448.98" y1="70.50" x2="448.98" y2="79.40" stroke="#c9dcef" stroke-width="0.4"/>
<line x1="454.65" y1="70.50" x2="454.65" y2="79.40" stroke="#c9dcef" stroke-width="0.4"/>
<line x1="460.33" y1="70.50" x2="460.33" y2="79.40" stroke="#c9dcef" stroke-width="0.4"/>
<line x1="466.00" y1="70.50" x2="466.00" y2="79.40" stroke="#c9dcef" stroke-width="0.4"/>
<line x1="471.68" y1="70.50" x2="471.68" y2="79.40" stroke="#c9dcef" stroke-width="0.4"/>
<line x1="477.35" y1="70.50" x2="477.35" y2="79.40" stroke="#c9dcef" stroke-width="0.4"/>
<line x1="483.02" y1="70.50" x2="483.02" y2="79.40" stroke="#c9dcef" stroke-width="0.4"/>
<text x="309.94" y="76.73" font-size="4.4" text-anchor="middle" font-weight="normal" fill="#17243d"  stroke="#17243d" stroke-width="0.180">v3</text>
<text x="315.61" y="76.73" font-size="4.4" text-anchor="middle" font-weight="normal" fill="#17243d"  stroke="#17243d" stroke-width="0.180">v1</text>
<text x="321.29" y="76.73" font-size="4.4" text-anchor="middle" font-weight="normal" fill="#17243d"  stroke="#17243d" stroke-width="0.180">v3</text>
<text x="326.96" y="76.73" font-size="4.4" text-anchor="middle" font-weight="normal" fill="#17243d"  stroke="#17243d" stroke-width="0.180">v1</text>
<text x="332.64" y="76.73" font-size="4.4" text-anchor="middle" font-weight="normal" fill="#17243d"  stroke="#17243d" stroke-width="0.180">v3</text>
<text x="338.31" y="76.73" font-size="4.4" text-anchor="middle" font-weight="normal" fill="#17243d"  stroke="#17243d" stroke-width="0.180">v3</text>
<text x="355.34" y="76.73" font-size="4.4" text-anchor="middle" font-weight="normal" fill="#17243d"  stroke="#17243d" stroke-width="0.180">v3</text>
<text x="366.69" y="76.73" font-size="4.4" text-anchor="middle" font-weight="normal" fill="#17243d"  stroke="#17243d" stroke-width="0.180">v3</text>
<text x="378.04" y="76.73" font-size="4.4" text-anchor="middle" font-weight="normal" fill="#17243d"  stroke="#17243d" stroke-width="0.180">v2</text>
<text x="383.71" y="76.73" font-size="4.4" text-anchor="middle" font-weight="normal" fill="#17243d"  stroke="#17243d" stroke-width="0.180">v5</text>
<text x="389.39" y="76.73" font-size="4.4" text-anchor="middle" font-weight="normal" fill="#17243d"  stroke="#17243d" stroke-width="0.180">v3</text>
<text x="395.06" y="76.73" font-size="4.4" text-anchor="middle" font-weight="normal" fill="#17243d"  stroke="#17243d" stroke-width="0.180">v5</text>
<text x="406.41" y="76.73" font-size="4.4" text-anchor="middle" font-weight="normal" fill="#17243d"  stroke="#17243d" stroke-width="0.180">v1</text>
<text x="412.09" y="76.73" font-size="4.4" text-anchor="middle" font-weight="normal" fill="#17243d"  stroke="#17243d" stroke-width="0.180">v3</text>
<text x="417.76" y="76.73" font-size="4.4" text-anchor="middle" font-weight="normal" fill="#17243d"  stroke="#17243d" stroke-width="0.180">v1</text>
<text x="423.44" y="76.73" font-size="4.4" text-anchor="middle" font-weight="normal" fill="#17243d"  stroke="#17243d" stroke-width="0.180">v3</text>
<text x="429.11" y="76.73" font-size="4.4" text-anchor="middle" font-weight="normal" fill="#17243d"  stroke="#17243d" stroke-width="0.180">v3</text>
<text x="434.79" y="76.73" font-size="4.4" text-anchor="middle" font-weight="normal" fill="#17243d"  stroke="#17243d" stroke-width="0.180">v1</text>
<text x="440.46" y="76.73" font-size="4.4" text-anchor="middle" font-weight="normal" fill="#17243d"  stroke="#17243d" stroke-width="0.180">v1</text>
<text x="446.14" y="76.73" font-size="4.4" text-anchor="middle" font-weight="normal" fill="#17243d"  stroke="#17243d" stroke-width="0.180">v3</text>
<text x="451.81" y="76.73" font-size="4.4" text-anchor="middle" font-weight="normal" fill="#17243d"  stroke="#17243d" stroke-width="0.180">v5</text>
<text x="457.49" y="76.73" font-size="4.4" text-anchor="middle" font-weight="normal" fill="#17243d"  stroke="#17243d" stroke-width="0.180">v1</text>
<text x="463.16" y="76.73" font-size="4.4" text-anchor="middle" font-weight="normal" fill="#17243d"  stroke="#17243d" stroke-width="0.180">v2</text>
<text x="468.84" y="76.73" font-size="4.4" text-anchor="middle" font-weight="normal" fill="#17243d"  stroke="#17243d" stroke-width="0.180">v1</text>
<text x="474.51" y="76.73" font-size="4.4" text-anchor="middle" font-weight="normal" fill="#17243d"  stroke="#17243d" stroke-width="0.180">v1</text>
<rect x="307.10" y="70.50" width="181.60" height="8.90" fill="none" stroke="#a9b2bf" stroke-width="0.7"/>
<rect x="257.50" y="82.50" width="49.00" height="88.90" fill="#f1f1f1"/>
<rect x="257.50" y="82.50" width="14.60" height="88.90" fill="#bad6f1"/>
<text x="0" y="3.11" transform="translate(264.30,125.55) rotate(-90)" font-size="8.7" text-anchor="middle" font-weight="normal" fill="#1f3b5c"  stroke="#1f3b5c" stroke-width="0.391">ALK Mutations</text>
<text x="304.90" y="88.84" font-size="6.2" text-anchor="end" font-weight="normal" fill="#333"  stroke="#333" stroke-width="0.136">G1202R</text>
<text x="304.90" y="97.79" font-size="6.2" text-anchor="end" font-weight="normal" fill="#333"  stroke="#333" stroke-width="0.136">G1269A</text>
<text x="304.90" y="106.74" font-size="6.2" text-anchor="end" font-weight="normal" fill="#333"  stroke="#333" stroke-width="0.136">I1171N/T</text>
<text x="304.90" y="115.69" font-size="6.2" text-anchor="end" font-weight="normal" fill="#333"  stroke="#333" stroke-width="0.136">D1203N</text>
<text x="304.90" y="124.64" font-size="6.2" text-anchor="end" font-weight="normal" fill="#333"  stroke="#333" stroke-width="0.136">L1198F</text>
<text x="304.90" y="133.59" font-size="6.2" text-anchor="end" font-weight="normal" fill="#333"  stroke="#333" stroke-width="0.136">L1196M</text>
<text x="304.90" y="142.54" font-size="6.2" text-anchor="end" font-weight="normal" fill="#333"  stroke="#333" stroke-width="0.136">E1210K</text>
<text x="304.90" y="151.49" font-size="6.2" text-anchor="end" font-weight="normal" fill="#333"  stroke="#333" stroke-width="0.136">S1206F</text>
<text x="304.90" y="160.44" font-size="6.2" text-anchor="end" font-weight="normal" fill="#333"  stroke="#333" stroke-width="0.136">C1156Y</text>
<text x="304.90" y="169.39" font-size="6.2" text-anchor="end" font-weight="normal" fill="#333"  stroke="#333" stroke-width="0.136">L1204V</text>
<line x1="312.78" y1="82.50" x2="312.78" y2="172.00" stroke="#f2f2f2" stroke-width="0.45"/>
<line x1="318.45" y1="82.50" x2="318.45" y2="172.00" stroke="#f2f2f2" stroke-width="0.45"/>
<line x1="324.12" y1="82.50" x2="324.12" y2="172.00" stroke="#f2f2f2" stroke-width="0.45"/>
<line x1="329.80" y1="82.50" x2="329.80" y2="172.00" stroke="#f2f2f2" stroke-width="0.45"/>
<line x1="335.48" y1="82.50" x2="335.48" y2="172.00" stroke="#f2f2f2" stroke-width="0.45"/>
<line x1="341.15" y1="82.50" x2="341.15" y2="172.00" stroke="#f2f2f2" stroke-width="0.45"/>
<line x1="346.83" y1="82.50" x2="346.83" y2="172.00" stroke="#f2f2f2" stroke-width="0.45"/>
<line x1="352.50" y1="82.50" x2="352.50" y2="172.00" stroke="#f2f2f2" stroke-width="0.45"/>
<line x1="358.18" y1="82.50" x2="358.18" y2="172.00" stroke="#f2f2f2" stroke-width="0.45"/>
<line x1="363.85" y1="82.50" x2="363.85" y2="172.00" stroke="#f2f2f2" stroke-width="0.45"/>
<line x1="369.53" y1="82.50" x2="369.53" y2="172.00" stroke="#f2f2f2" stroke-width="0.45"/>
<line x1="375.20" y1="82.50" x2="375.20" y2="172.00" stroke="#f2f2f2" stroke-width="0.45"/>
<line x1="380.88" y1="82.50" x2="380.88" y2="172.00" stroke="#f2f2f2" stroke-width="0.45"/>
<line x1="386.55" y1="82.50" x2="386.55" y2="172.00" stroke="#f2f2f2" stroke-width="0.45"/>
<line x1="392.23" y1="82.50" x2="392.23" y2="172.00" stroke="#f2f2f2" stroke-width="0.45"/>
<line x1="397.90" y1="82.50" x2="397.90" y2="172.00" stroke="#f2f2f2" stroke-width="0.45"/>
<line x1="403.58" y1="82.50" x2="403.58" y2="172.00" stroke="#f2f2f2" stroke-width="0.45"/>
<line x1="409.25" y1="82.50" x2="409.25" y2="172.00" stroke="#f2f2f2" stroke-width="0.45"/>
<line x1="414.93" y1="82.50" x2="414.93" y2="172.00" stroke="#f2f2f2" stroke-width="0.45"/>
<line x1="420.60" y1="82.50" x2="420.60" y2="172.00" stroke="#f2f2f2" stroke-width="0.45"/>
<line x1="426.28" y1="82.50" x2="426.28" y2="172.00" stroke="#f2f2f2" stroke-width="0.45"/>
<line x1="431.95" y1="82.50" x2="431.95" y2="172.00" stroke="#f2f2f2" stroke-width="0.45"/>
<line x1="437.62" y1="82.50" x2="437.62" y2="172.00" stroke="#f2f2f2" stroke-width="0.45"/>
<line x1="443.30" y1="82.50" x2="443.30" y2="172.00" stroke="#f2f2f2" stroke-width="0.45"/>
<line x1="448.98" y1="82.50" x2="448.98" y2="172.00" stroke="#f2f2f2" stroke-width="0.45"/>
<line x1="454.65" y1="82.50" x2="454.65" y2="172.00" stroke="#f2f2f2" stroke-width="0.45"/>
<line x1="460.33" y1="82.50" x2="460.33" y2="172.00" stroke="#f2f2f2" stroke-width="0.45"/>
<line x1="466.00" y1="82.50" x2="466.00" y2="172.00" stroke="#f2f2f2" stroke-width="0.45"/>
<line x1="471.68" y1="82.50" x2="471.68" y2="172.00" stroke="#f2f2f2" stroke-width="0.45"/>
<line x1="477.35" y1="82.50" x2="477.35" y2="172.00" stroke="#f2f2f2" stroke-width="0.45"/>
<line x1="483.02" y1="82.50" x2="483.02" y2="172.00" stroke="#f2f2f2" stroke-width="0.45"/>
<line x1="307.10" y1="91.45" x2="488.70" y2="91.45" stroke="#f2f2f2" stroke-width="0.45"/>
<line x1="307.10" y1="100.40" x2="488.70" y2="100.40" stroke="#f2f2f2" stroke-width="0.45"/>
<line x1="307.10" y1="109.35" x2="488.70" y2="109.35" stroke="#f2f2f2" stroke-width="0.45"/>
<line x1="307.10" y1="118.30" x2="488.70" y2="118.30" stroke="#f2f2f2" stroke-width="0.45"/>
<line x1="307.10" y1="127.25" x2="488.70" y2="127.25" stroke="#f2f2f2" stroke-width="0.45"/>
<line x1="307.10" y1="136.20" x2="488.70" y2="136.20" stroke="#f2f2f2" stroke-width="0.45"/>
<line x1="307.10" y1="145.15" x2="488.70" y2="145.15" stroke="#f2f2f2" stroke-width="0.45"/>
<line x1="307.10" y1="154.10" x2="488.70" y2="154.10" stroke="#f2f2f2" stroke-width="0.45"/>
<line x1="307.10" y1="163.05" x2="488.70" y2="163.05" stroke="#f2f2f2" stroke-width="0.45"/>
<rect x="307.10" y="82.50" width="5.67" height="8.95" fill="#5e8fe0"/>
<rect x="312.78" y="82.50" width="5.67" height="8.95" fill="#5e8fe0"/>
<rect x="318.45" y="82.50" width="5.67" height="8.95" fill="#5e8fe0"/>
<rect x="324.12" y="82.50" width="5.67" height="8.95" fill="#5e8fe0"/>
<rect x="329.80" y="82.50" width="5.67" height="8.95" fill="#5e8fe0"/>
<rect x="335.48" y="82.50" width="5.67" height="8.95" fill="#5e8fe0"/>
<rect x="307.10" y="91.45" width="5.67" height="8.95" fill="#5e8fe0"/>
<rect x="312.78" y="91.45" width="5.67" height="8.95" fill="#5e8fe0"/>
<rect x="318.45" y="91.45" width="5.67" height="8.95" fill="#5e8fe0"/>
<rect x="341.15" y="91.45" width="5.67" height="8.95" fill="#5e8fe0"/>
<rect x="346.83" y="91.45" width="5.67" height="8.95" fill="#5e8fe0"/>
<rect x="352.50" y="100.40" width="5.67" height="8.95" fill="#5e8fe0"/>
<rect x="358.18" y="100.40" width="5.67" height="8.95" fill="#5e8fe0"/>
<rect x="363.85" y="100.40" width="5.67" height="8.95" fill="#5e8fe0"/>
<rect x="341.15" y="109.35" width="5.67" height="8.95" fill="#5e8fe0"/>
<rect x="352.50" y="109.35" width="5.67" height="8.95" fill="#5e8fe0"/>
<rect x="358.18" y="109.35" width="5.67" height="8.95" fill="#5e8fe0"/>
<rect x="363.85" y="118.30" width="5.67" height="8.95" fill="#5e8fe0"/>
<rect x="369.53" y="118.30" width="5.67" height="8.95" fill="#5e8fe0"/>
<rect x="324.12" y="127.25" width="5.67" height="8.95" fill="#5e8fe0"/>
<rect x="341.15" y="136.20" width="5.67" height="8.95" fill="#5e8fe0"/>
<rect x="307.10" y="145.15" width="5.67" height="8.95" fill="#5e8fe0"/>
<rect x="369.53" y="154.10" width="5.67" height="8.95" fill="#5e8fe0"/>
<rect x="312.78" y="163.05" width="5.67" height="8.95" fill="#5e8fe0"/>
<line x1="312.78" y1="82.50" x2="312.78" y2="91.45" stroke="#86aaee" stroke-width="0.5"/>
<line x1="307.10" y1="91.45" x2="312.78" y2="91.45" stroke="#86aaee" stroke-width="0.5"/>
<line x1="318.45" y1="82.50" x2="318.45" y2="91.45" stroke="#86aaee" stroke-width="0.5"/>
<line x1="312.78" y1="91.45" x2="318.45" y2="91.45" stroke="#86aaee" stroke-width="0.5"/>
<line x1="324.12" y1="82.50" x2="324.12" y2="91.45" stroke="#86aaee" stroke-width="0.5"/>
<line x1="318.45" y1="91.45" x2="324.12" y2="91.45" stroke="#86aaee" stroke-width="0.5"/>
<line x1="329.80" y1="82.50" x2="329.80" y2="91.45" stroke="#86aaee" stroke-width="0.5"/>
<line x1="335.48" y1="82.50" x2="335.48" y2="91.45" stroke="#86aaee" stroke-width="0.5"/>
<line x1="312.78" y1="91.45" x2="312.78" y2="100.40" stroke="#86aaee" stroke-width="0.5"/>
<line x1="318.45" y1="91.45" x2="318.45" y2="100.40" stroke="#86aaee" stroke-width="0.5"/>
<line x1="346.83" y1="91.45" x2="346.83" y2="100.40" stroke="#86aaee" stroke-width="0.5"/>
<line x1="358.18" y1="100.40" x2="358.18" y2="109.35" stroke="#86aaee" stroke-width="0.5"/>
<line x1="352.50" y1="109.35" x2="358.18" y2="109.35" stroke="#86aaee" stroke-width="0.5"/>
<line x1="363.85" y1="100.40" x2="363.85" y2="109.35" stroke="#86aaee" stroke-width="0.5"/>
<line x1="358.18" y1="109.35" x2="363.85" y2="109.35" stroke="#86aaee" stroke-width="0.5"/>
<line x1="358.18" y1="109.35" x2="358.18" y2="118.30" stroke="#86aaee" stroke-width="0.5"/>
<line x1="369.53" y1="118.30" x2="369.53" y2="127.25" stroke="#86aaee" stroke-width="0.5"/>
<line x1="307.10" y1="82.50" x2="307.10" y2="172.00" stroke="#9b9b9b" stroke-width="0.7"/>
<line x1="307.10" y1="172.00" x2="488.70" y2="172.00" stroke="#9b9b9b" stroke-width="0.7"/>
<line x1="307.10" y1="82.50" x2="488.70" y2="82.50" stroke="#9b9b9b" stroke-width="0.7"/>
<rect x="488.90" y="85.20" width="30.00" height="3.80" fill="#939393"/>
<rect x="488.90" y="93.94" width="25.00" height="3.80" fill="#939393"/>
<rect x="488.90" y="102.68" width="15.00" height="3.80" fill="#939393"/>
<rect x="488.90" y="111.42" width="15.00" height="3.80" fill="#939393"/>
<rect x="488.90" y="120.16" width="5.00" height="3.80" fill="#939393"/>
<rect x="488.90" y="128.90" width="5.00" height="3.80" fill="#939393"/>
<rect x="488.90" y="137.64" width="5.00" height="3.80" fill="#939393"/>
<rect x="488.90" y="146.38" width="5.00" height="3.80" fill="#939393"/>
<rect x="488.90" y="155.12" width="5.00" height="3.80" fill="#939393"/>
<rect x="488.90" y="163.86" width="5.00" height="3.80" fill="#939393"/>
<line x1="488.70" y1="82.50" x2="488.70" y2="172.00" stroke="#a0a0a0" stroke-width="0.8"/>
<line x1="488.70" y1="82.50" x2="519.00" y2="82.50" stroke="#a0a0a0" stroke-width="0.8"/>
<text x="506.10" y="73.35" font-size="4.6" text-anchor="middle" font-weight="bold" fill="#222" >Total</text>
<text x="504.00" y="78.36" font-size="5.2" text-anchor="middle" font-weight="bold" fill="#222" >3</text>
<text x="518.60" y="78.36" font-size="5.2" text-anchor="middle" font-weight="bold" fill="#222" >6</text>
<text x="1.60" y="10.79" font-size="14.5" text-anchor="start" font-weight="bold" fill="#000" >A</text>
<text x="7.30" y="198.23" font-size="14.6" text-anchor="start" font-weight="bold" fill="#000" >B</text>
<text x="288.00" y="202.33" font-size="14.6" text-anchor="start" font-weight="bold" fill="#000" >C</text>
<text x="30.50" y="361.90" font-size="6.7" text-anchor="end" font-weight="normal" fill="#333"  stroke="#333" stroke-width="0.147">0</text>
<line x1="34.00" y1="338.12" x2="252.00" y2="338.12" stroke="#f0f0f0" stroke-width="0.6"/>
<text x="30.50" y="340.52" font-size="6.7" text-anchor="end" font-weight="normal" fill="#333"  stroke="#333" stroke-width="0.147">10</text>
<line x1="34.00" y1="316.75" x2="252.00" y2="316.75" stroke="#f0f0f0" stroke-width="0.6"/>
<text x="30.50" y="319.15" font-size="6.7" text-anchor="end" font-weight="normal" fill="#333"  stroke="#333" stroke-width="0.147">20</text>
<line x1="34.00" y1="295.38" x2="252.00" y2="295.38" stroke="#f0f0f0" stroke-width="0.6"/>
<text x="30.50" y="297.77" font-size="6.7" text-anchor="end" font-weight="normal" fill="#333"  stroke="#333" stroke-width="0.147">30</text>
<line x1="34.00" y1="274.00" x2="252.00" y2="274.00" stroke="#f0f0f0" stroke-width="0.6"/>
<text x="30.50" y="276.40" font-size="6.7" text-anchor="end" font-weight="normal" fill="#333"  stroke="#333" stroke-width="0.147">40</text>
<line x1="34.00" y1="252.62" x2="252.00" y2="252.62" stroke="#f0f0f0" stroke-width="0.6"/>
<text x="30.50" y="255.02" font-size="6.7" text-anchor="end" font-weight="normal" fill="#333"  stroke="#333" stroke-width="0.147">50</text>
<line x1="34.00" y1="231.25" x2="252.00" y2="231.25" stroke="#f0f0f0" stroke-width="0.6"/>
<text x="30.50" y="233.65" font-size="6.7" text-anchor="end" font-weight="normal" fill="#333"  stroke="#333" stroke-width="0.147">60</text>
<line x1="34.00" y1="359.50" x2="252.00" y2="359.50" stroke="#e8e8e8" stroke-width="0.6"/>
<rect x="53.25" y="286.82" width="16.00" height="72.68" fill="#c9c9c9"/>
<rect x="73.25" y="308.20" width="16.20" height="51.30" fill="#0000f5"/>
<rect x="125.00" y="267.59" width="16.00" height="91.91" fill="#c9c9c9"/>
<rect x="145.00" y="299.65" width="16.20" height="59.85" fill="#0000f5"/>
<rect x="196.25" y="310.34" width="16.00" height="49.16" fill="#c9c9c9"/>
<rect x="217.00" y="256.90" width="16.20" height="102.60" fill="#0000f5"/>
<text x="71.40" y="369.83" font-size="6.5" text-anchor="middle" font-weight="normal" fill="#222"  stroke="#222" stroke-width="0.143">0</text>
<text x="143.00" y="369.83" font-size="6.5" text-anchor="middle" font-weight="normal" fill="#222"  stroke="#222" stroke-width="0.143">1</text>
<text x="214.50" y="369.83" font-size="6.5" text-anchor="middle" font-weight="normal" fill="#222"  stroke="#222" stroke-width="0.143">2 or more</text>
<text x="134.40" y="381.81" font-size="8.7" text-anchor="middle" font-weight="normal" fill="#222"  stroke="#222" stroke-width="0.391">Number of ALK mutations</text>
<text x="0" y="3.18" transform="translate(11.80,293.60) rotate(-90)" font-size="8.88" text-anchor="middle" font-weight="normal" fill="#222"  stroke="#222" stroke-width="0.400">Percentage of specimens</text>
<text x="139.50" y="196.18" font-size="8.6" text-anchor="middle" font-weight="normal" fill="#222"  stroke="#222" stroke-width="0.387">Number of ALK mutations in plasma at relapse</text>
<text x="141.00" y="206.90" font-size="8.65" text-anchor="middle" font-weight="normal" fill="#222"  stroke="#222" stroke-width="0.389">on second-generation TKI vs Lorlatinib</text>
<rect x="67.70" y="221.00" width="3.60" height="3.60" fill="#c9c9c9"/>
<text x="73.50" y="226.41" font-size="7.58" text-anchor="start" font-weight="normal" fill="#222"  stroke="#222" stroke-width="0.341">Post-second-generation</text>
<rect x="159.10" y="221.00" width="3.60" height="3.60" fill="#0000f5"/>
<text x="165.00" y="226.41" font-size="7.58" text-anchor="start" font-weight="normal" fill="#222"  stroke="#222" stroke-width="0.341">Post-lorlatinib</text>
<text x="224.6" y="248.55" font-size="6" text-anchor="middle" fill="#222" stroke="#222" stroke-width="0.2"><tspan font-style="italic">P</tspan> = 0.017</text>
<text x="223.50" y="257.75" font-size="6.0" text-anchor="middle" font-weight="normal" fill="#222"  stroke="#222" stroke-width="0.132">*</text>
<text x="288.75" y="362.20" font-size="6.7" text-anchor="end" font-weight="normal" fill="#333"  stroke="#333" stroke-width="0.147">0</text>
<line x1="292.00" y1="341.26" x2="476.00" y2="341.26" stroke="#f0f0f0" stroke-width="0.6"/>
<text x="288.75" y="343.66" font-size="6.7" text-anchor="end" font-weight="normal" fill="#333"  stroke="#333" stroke-width="0.147">10</text>
<line x1="292.00" y1="322.72" x2="476.00" y2="322.72" stroke="#f0f0f0" stroke-width="0.6"/>
<text x="288.75" y="325.12" font-size="6.7" text-anchor="end" font-weight="normal" fill="#333"  stroke="#333" stroke-width="0.147">20</text>
<line x1="292.00" y1="304.18" x2="476.00" y2="304.18" stroke="#f0f0f0" stroke-width="0.6"/>
<text x="288.75" y="306.58" font-size="6.7" text-anchor="end" font-weight="normal" fill="#333"  stroke="#333" stroke-width="0.147">30</text>
<line x1="292.00" y1="285.64" x2="476.00" y2="285.64" stroke="#f0f0f0" stroke-width="0.6"/>
<text x="288.75" y="288.04" font-size="6.7" text-anchor="end" font-weight="normal" fill="#333"  stroke="#333" stroke-width="0.147">40</text>
<line x1="292.00" y1="267.10" x2="476.00" y2="267.10" stroke="#f0f0f0" stroke-width="0.6"/>
<text x="288.75" y="269.50" font-size="6.7" text-anchor="end" font-weight="normal" fill="#333"  stroke="#333" stroke-width="0.147">50</text>
<line x1="292.00" y1="248.56" x2="476.00" y2="248.56" stroke="#f0f0f0" stroke-width="0.6"/>
<text x="288.75" y="250.96" font-size="6.7" text-anchor="end" font-weight="normal" fill="#333"  stroke="#333" stroke-width="0.147">60</text>
<line x1="292.00" y1="230.02" x2="476.00" y2="230.02" stroke="#f0f0f0" stroke-width="0.6"/>
<text x="288.75" y="232.42" font-size="6.7" text-anchor="end" font-weight="normal" fill="#333"  stroke="#333" stroke-width="0.147">70</text>
<line x1="292.00" y1="359.80" x2="478.00" y2="359.80" stroke="#e8e8e8" stroke-width="0.6"/>
<rect x="309.50" y="243.00" width="13.30" height="116.80" fill="#dcdcdc"/>
<rect x="326.25" y="315.30" width="13.60" height="44.50" fill="#0000f5"/>
<rect x="369.40" y="343.11" width="13.30" height="16.69" fill="#dcdcdc"/>
<rect x="386.70" y="307.89" width="13.60" height="51.91" fill="#0000f5"/>
<rect x="430.60" y="307.89" width="13.30" height="51.91" fill="#dcdcdc"/>
<rect x="447.90" y="270.81" width="13.60" height="88.99" fill="#0000f5"/>
<text x="324.50" y="369.63" font-size="6.5" text-anchor="middle" font-weight="normal" fill="#222"  stroke="#222" stroke-width="0.143">0</text>
<text x="385.00" y="369.63" font-size="6.5" text-anchor="middle" font-weight="normal" fill="#222"  stroke="#222" stroke-width="0.143">1</text>
<text x="446.00" y="369.63" font-size="6.5" text-anchor="middle" font-weight="normal" fill="#222"  stroke="#222" stroke-width="0.143">2 or more</text>
<text x="385.50" y="381.71" font-size="8.7" text-anchor="middle" font-weight="normal" fill="#222"  stroke="#222" stroke-width="0.391">Number of ALK mutations</text>
<text x="0" y="3.18" transform="translate(271.10,298.20) rotate(-90)" font-size="8.88" text-anchor="middle" font-weight="normal" fill="#222"  stroke="#222" stroke-width="0.400">Percentage of specimens</text>
<text x="394.30" y="197.03" font-size="8.75" text-anchor="middle" font-weight="normal" fill="#222"  stroke="#222" stroke-width="0.394">Number of ALK mutations in</text>
<text x="394.20" y="207.22" font-size="8.72" text-anchor="middle" font-weight="normal" fill="#222"  stroke="#222" stroke-width="0.392">lorlatinib-resistant specimens</text>
<rect x="353.70" y="223.10" width="3.60" height="3.60" fill="#dcdcdc"/>
<text x="359.00" y="227.86" font-size="7.43" text-anchor="start" font-weight="normal" fill="#222"  stroke="#222" stroke-width="0.334">Tissue</text>
<rect x="387.10" y="223.10" width="3.60" height="3.60" fill="#0000f5"/>
<text x="392.70" y="227.86" font-size="7.44" text-anchor="start" font-weight="normal" fill="#222"  stroke="#222" stroke-width="0.335">Plasma</text>
<text x="336.6" y="300.40" font-size="6" text-anchor="middle" fill="#222" stroke="#222" stroke-width="0.2"><tspan font-style="italic">P</tspan> = 0.004</text>
<text x="333.00" y="313.45" font-size="6.0" text-anchor="middle" font-weight="normal" fill="#222"  stroke="#222" stroke-width="0.132">*</text>
</svg>
</body></html>
